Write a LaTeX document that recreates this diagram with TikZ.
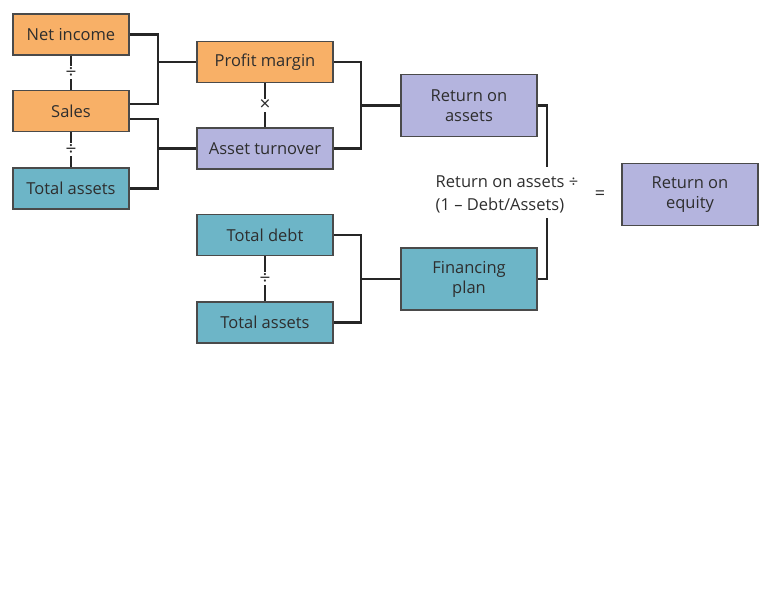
\documentclass[tikz,border=0pt]{standalone}
\usepackage{fontspec}
\setmainfont{Open Sans}
\usepackage{tikz}
\usetikzlibrary{positioning,calc}
\definecolor{ink}{HTML}{2E2E2E}
\definecolor{edge}{HTML}{4A4A4A}
\definecolor{org}{HTML}{F8B067}
\definecolor{lav}{HTML}{B4B4DE}
\definecolor{tea}{HTML}{6DB5C7}
\tikzset{
  box/.style   ={draw=edge, line width=1.5pt, align=center, inner sep=2pt,
                 font=\fontsize{16.5}{20}\selectfont, text=ink, minimum height=41pt},
  sm/.style    ={box, minimum width=116pt},
  wd/.style    ={box, minimum width=136pt},
  tall/.style  ={wd, minimum height=62pt},
  oo/.style    ={fill=org},
  ll/.style    ={fill=lav},
  tt/.style    ={fill=tea},
  wire/.style  ={line width=2.2pt, draw=black!85},
  op/.style    ={fill=white, inner sep=1pt, text=ink, font=\fontsize{19}{19}\selectfont},
  txt/.style   ={font=\fontsize{16.5}{23}\selectfont, text=ink, align=left},
}
\begin{document}
\begin{tikzpicture}[x=1pt,y=-1pt]
  \useasboundingbox (0,0) rectangle (768,594);
  % left column
  \node[sm,oo](ni)  at (71,34.5){Net income};
  \node[sm,oo](sal) at (71,111){Sales};
  \node[sm,tt](ta)  at (71,188.5){Total assets};
  % middle column
  \node[wd,oo](pm)  at (265,62){Profit margin};
  \node[wd,ll](at)  at (265,148.5){Asset turnover};
  \node[wd,tt](td)  at (265,235){Total debt};
  \node[wd,tt](ta2) at (265,322.5){Total assets};
  % right part
  \node[tall,ll](roa) at (469,105.5){Return on\\assets};
  \node[tall,tt](fin) at (469,279){Financing\\plan};
  \node[txt](frm)     at (507,194){Return on assets \char"00F7\\(1 \char"2013{} Debt/Assets)};
  \node[text=ink, font=\fontsize{18}{18}\selectfont](eq) at (600,195){=};
  \node[tall,ll](roe) at (690,194.5){Return on\\equity};
  \coordinate (ja) at (158,0);
  \coordinate (jb) at (361,0);
  \coordinate (up) at (547,167);
  \coordinate (dn) at (547,218);
  % operators
  \draw[wire,line width=1.8pt](ni) -- node[op]{\char"00F7} (sal);
  \draw[wire,line width=1.8pt](sal) -- node[op]{\char"00F7} (ta);
  \draw[wire,line width=1.8pt](pm) -- node[op]{\char"00D7} (at);
  \draw[wire,line width=1.8pt](td) -- node[op]{\char"00F7} (ta2);
  % joins
  \draw[wire](ni.east) -- (ni.east -| ja) |- ([yshift=7pt]sal.east);
  \draw[wire](pm.west) -- (pm.west -| ja);
  \draw[wire]([yshift=-8pt]sal.east) -- ([yshift=-8pt]sal.east -| ja) |- (ta.east);
  \draw[wire](at.west) -- (at.west -| ja);
  \draw[wire](pm.east) -- (pm.east -| jb) |- (at.east);
  \draw[wire](roa.west) -- (roa.west -| jb);
  \draw[wire](td.east) -- (td.east -| jb) |- (ta2.east);
  \draw[wire](fin.west) -- (fin.west -| jb);
  \draw[wire](roa.east) -| (up);
  \draw[wire](fin.east) -| (dn);
\end{tikzpicture}
\end{document}
